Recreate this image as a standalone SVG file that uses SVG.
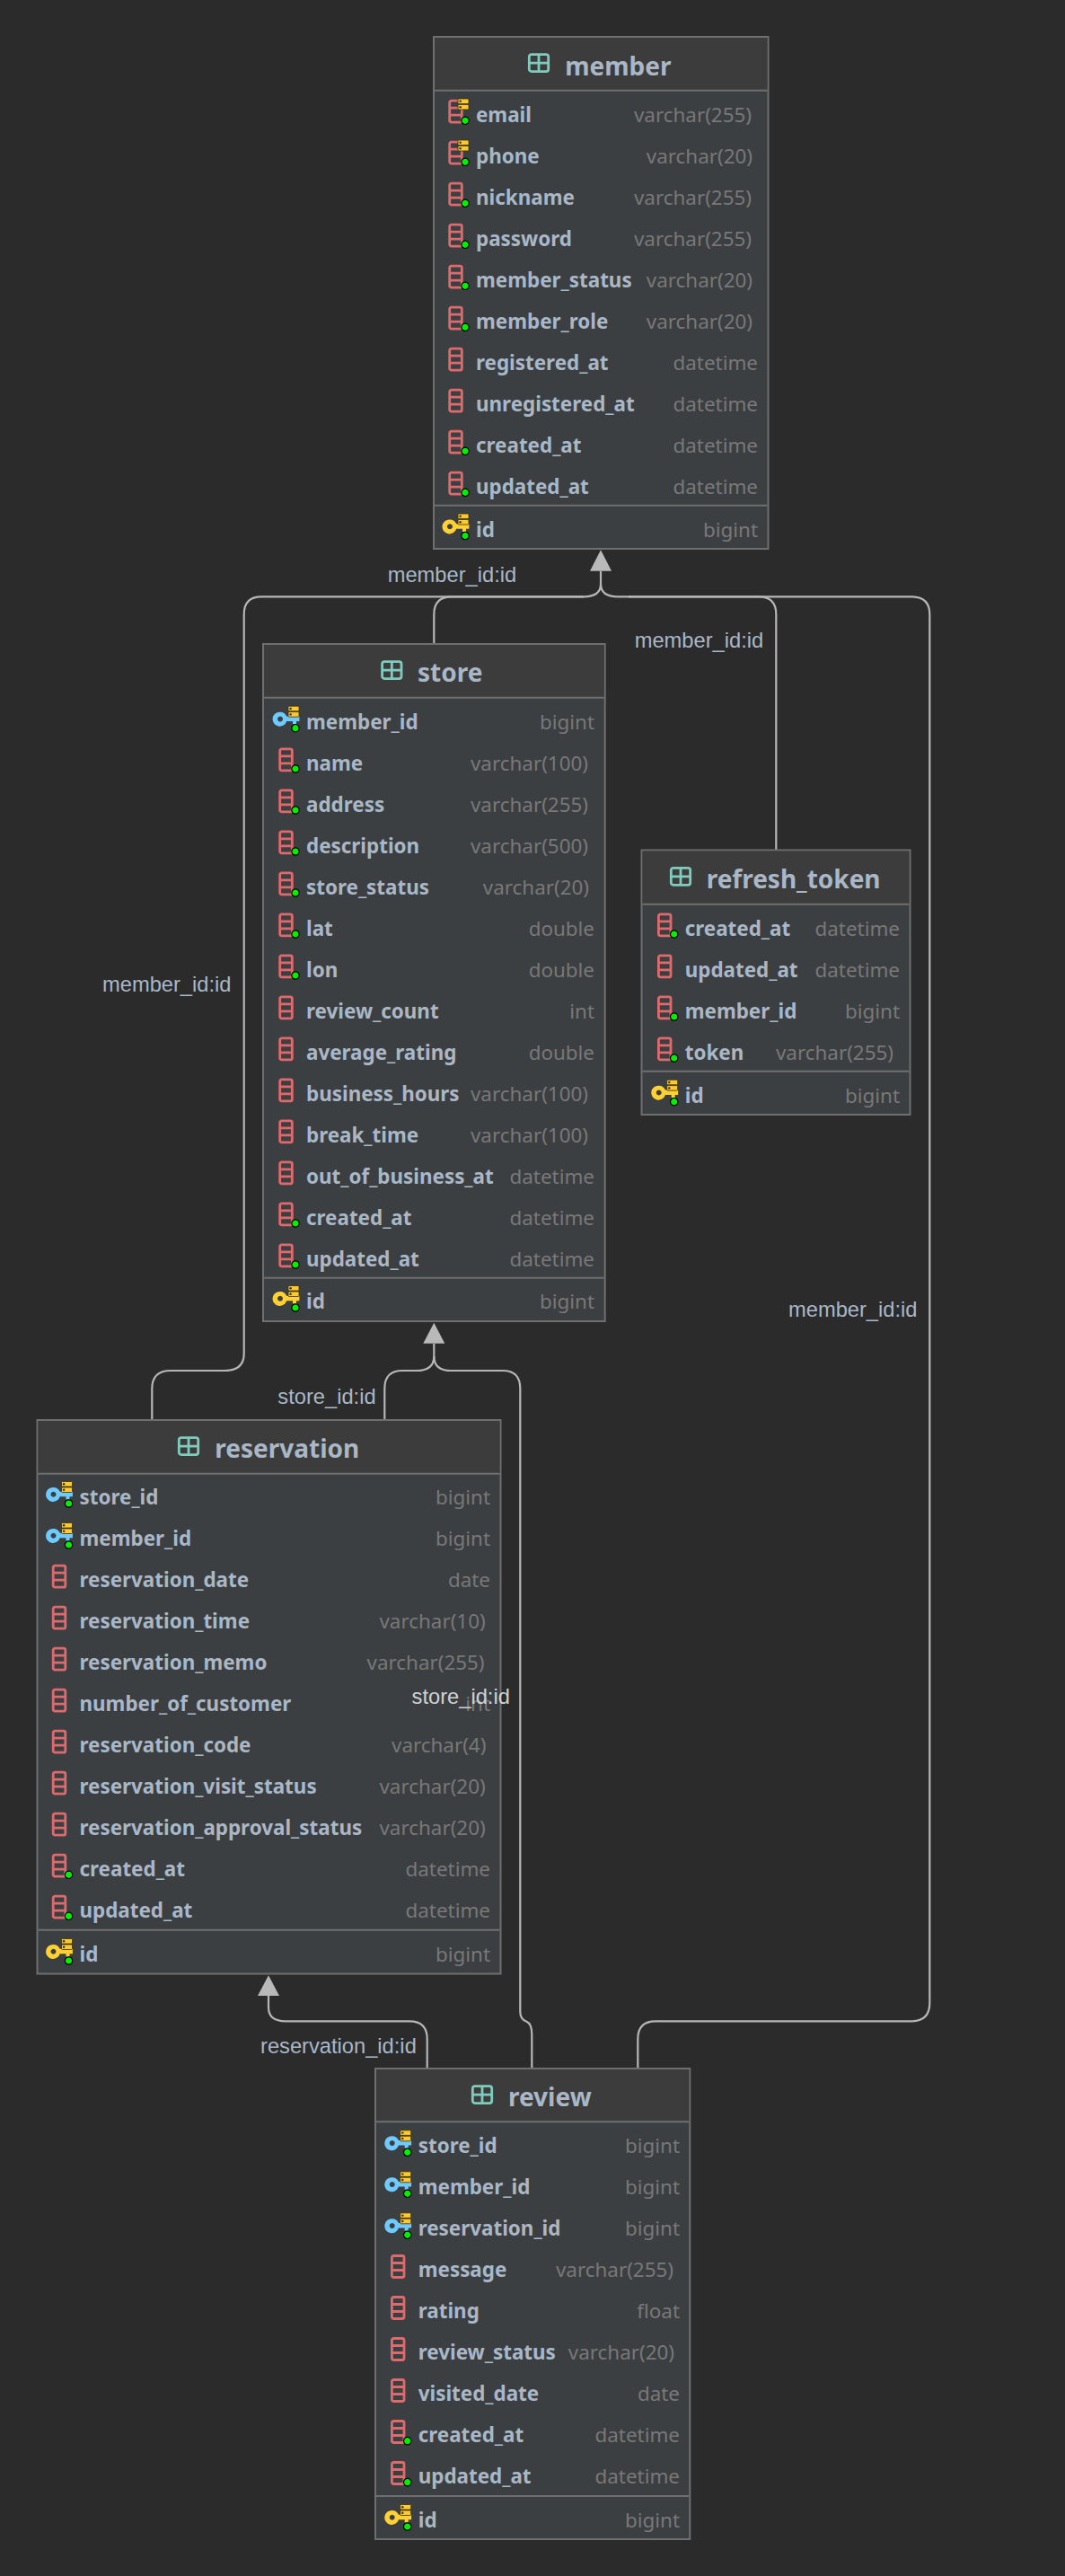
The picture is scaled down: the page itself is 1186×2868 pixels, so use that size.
<svg xmlns="http://www.w3.org/2000/svg" width="1186" height="2868" viewBox="0 0 1186 2868">
<style>
.bg{fill:#2b2b2b}
.box{fill:#3c3f41;stroke:#6f6f6f;stroke-width:2}
.hd{fill:#3c3c3c}
.sep{stroke:#6f6f6f;stroke-width:2;fill:none}
.title{font:700 28px "Noto Sans",sans-serif;fill:#a9b7c6}
.n{font:700 22.400px "Noto Sans",sans-serif;fill:#a9b7c6}
.t{font:400 22.400px "Noto Sans",sans-serif;fill:#787878;text-anchor:end}
.lb{font:400 23.700px "Liberation Sans",sans-serif;fill:#a9b7c6}
.ln{fill:none;stroke:#b6b6b6;stroke-width:2.200}
.ar{fill:#b9b9b9}
</style>
<defs>
<g id="tbl"><rect x="1.300" y="1.300" width="21.400" height="19" rx="2.500" fill="none" stroke="#7fcbbd" stroke-width="2.800"/><path d="M1 10.800H23M12 1V21" stroke="#7fcbbd" stroke-width="2.800"/></g>
<g id="dot"><circle r="4.200" fill="#00f000" stroke="#000" stroke-width="1.200"/></g>
<g id="idx"><rect x="0" y="0" width="12" height="5.600" rx="1" fill="#fcc833" stroke="#3c3000" stroke-width=".8"/><rect x="0" y="6.400" width="12" height="5.600" rx="1" fill="#fcc833" stroke="#3c3000" stroke-width=".8"/><circle cx="2.600" cy="2.800" r="1.200" fill="#333"/><circle cx="2.600" cy="9.200" r="1.200" fill="#333"/></g>
<g id="c"><g transform="translate(-30.500 -25)"><rect x="1.200" y="1.200" width="13.600" height="24" rx="2" fill="none" stroke="#de6a6e" stroke-width="2.800"/><path d="M1 9.200H15M1 17.200H15" stroke="#de6a6e" stroke-width="2.800"/></g></g>
<g id="cd"><use href="#c"/><use href="#dot" x="-12" y="-1.700"/></g>
<g id="cx"><use href="#c"/><use href="#idx" x="-20" y="-26"/><use href="#dot" x="-12" y="-1.700"/></g>
<path id="keyshape" fill-rule="evenodd" d="M8 0a8 8 0 0 1 7.200 4.800H29.400V10.200H26V13.500H22V10.200H15.200A8 8 0 1 1 8 0ZM8 4.800a3 3 0 1 0 .01 0Z"/>
<g id="pk"><use href="#keyshape" fill="#ffd134" x="-37" y="-19"/><use href="#idx" x="-20" y="-25.500"/><use href="#dot" x="-12" y="-1"/></g>
<g id="fk"><use href="#keyshape" fill="#6fcbff" x="-37" y="-19"/><use href="#idx" x="-20" y="-25.500"/><use href="#dot" x="-12" y="-1"/></g>
</defs>
<rect class="bg" width="1186" height="2868"/>
<g id="connectors">
<path class="ln" d="M669 636V650Q669 664.300 650 664.300H291Q271.700 664.300 271.700 684V1507Q271.700 1526 250 1526H190Q169.300 1526 169.300 1546V1580"/>
<path class="ln" d="M483.300 716V684Q483.300 664.300 503 664.300H650"/>
<path class="ln" d="M669 650Q669 664.300 688 664.300H1015Q1035.300 664.300 1035.300 684V2230Q1035.300 2250.300 1015 2250.300H730Q710.300 2250.300 710.300 2270V2302"/>
<path class="ln" d="M864.300 946V684Q864.300 664.300 845 664.300H700"/>
<path class="ln" d="M483.300 1496V1510Q483.300 1526 464 1526H448Q428.300 1526 428.300 1546V1580"/>
<path class="ln" d="M483.300 1510Q483.300 1526 502 1526H560Q579.300 1526 579.300 1546V2240Q579.300 2248 586 2250.500Q592.300 2253 592.300 2265V2302"/>
<path class="ln" d="M299 2222V2235Q299 2250.300 318 2250.300H456Q475.700 2250.300 475.700 2270V2302"/>
<path class="ar" d="M669 612.300L681 635.700H657Z"/>
<path class="ar" d="M483.300 1472.700L495.300 1495.700H471.300Z"/>
<path class="ar" d="M299 2199.300L311 2222H287Z"/>
</g>
<g id="member">
<rect class="box" x="483" y="41" width="372.500" height="570"/><rect class="hd" x="484" y="42" width="370.500" height="58"/><path class="sep" d="M484 100.700H854.500M484 562.700H854.500"/>
<use href="#tbl" x="588" y="59.300"/><text class="title" x="629.300" y="84">member</text>
<use href="#cx" x="530" y="136"/><text class="n" x="530" y="136">email</text><text class="t" x="837" y="136">varchar(255)</text>
<use href="#cx" x="530" y="182"/><text class="n" x="530" y="182">phone</text><text class="t" x="838" y="182">varchar(20)</text>
<use href="#cd" x="530" y="228"/><text class="n" x="530" y="228">nickname</text><text class="t" x="837" y="228">varchar(255)</text>
<use href="#cd" x="530" y="274"/><text class="n" x="530" y="274">password</text><text class="t" x="837" y="274">varchar(255)</text>
<use href="#cd" x="530" y="320"/><text class="n" x="530" y="320">member_status</text><text class="t" x="838" y="320">varchar(20)</text>
<use href="#cd" x="530" y="366"/><text class="n" x="530" y="366">member_role</text><text class="t" x="838" y="366">varchar(20)</text>
<use href="#c" x="530" y="412"/><text class="n" x="530" y="412">registered_at</text><text class="t" x="844" y="412">datetime</text>
<use href="#c" x="530" y="458"/><text class="n" x="530" y="458">unregistered_at</text><text class="t" x="844" y="458">datetime</text>
<use href="#cd" x="530" y="504"/><text class="n" x="530" y="504">created_at</text><text class="t" x="844" y="504">datetime</text>
<use href="#cd" x="530" y="550"/><text class="n" x="530" y="550">updated_at</text><text class="t" x="844" y="550">datetime</text>
<use href="#pk" x="530" y="597.500"/><text class="n" x="530" y="597.500">id</text><text class="t" x="844" y="597.500">bigint</text>
</g>
<g id="store">
<rect class="box" x="293" y="717" width="380.700" height="754"/><rect class="hd" x="294" y="718" width="378.700" height="58"/><path class="sep" d="M294 776.700H672.700M294 1422.700H672.700"/>
<use href="#tbl" x="424.300" y="735.300"/><text class="title" x="465" y="759.300">store</text>
<use href="#fk" x="341" y="811.700"/><text class="n" x="341" y="811.700">member_id</text><text class="t" x="662" y="811.700">bigint</text>
<use href="#cd" x="341" y="857.700"/><text class="n" x="341" y="857.700">name</text><text class="t" x="655" y="857.700">varchar(100)</text>
<use href="#cd" x="341" y="903.700"/><text class="n" x="341" y="903.700">address</text><text class="t" x="655" y="903.700">varchar(255)</text>
<use href="#cd" x="341" y="949.700"/><text class="n" x="341" y="949.700">description</text><text class="t" x="655" y="949.700">varchar(500)</text>
<use href="#cd" x="341" y="995.700"/><text class="n" x="341" y="995.700">store_status</text><text class="t" x="656" y="995.700">varchar(20)</text>
<use href="#cd" x="341" y="1041.700"/><text class="n" x="341" y="1041.700">lat</text><text class="t" x="662" y="1041.700">double</text>
<use href="#cd" x="341" y="1087.700"/><text class="n" x="341" y="1087.700">lon</text><text class="t" x="662" y="1087.700">double</text>
<use href="#c" x="341" y="1133.700"/><text class="n" x="341" y="1133.700">review_count</text><text class="t" x="662" y="1133.700">int</text>
<use href="#c" x="341" y="1179.700"/><text class="n" x="341" y="1179.700">average_rating</text><text class="t" x="662" y="1179.700">double</text>
<use href="#c" x="341" y="1225.700"/><text class="n" x="341" y="1225.700">business_hours</text><text class="t" x="655" y="1225.700">varchar(100)</text>
<use href="#c" x="341" y="1271.700"/><text class="n" x="341" y="1271.700">break_time</text><text class="t" x="655" y="1271.700">varchar(100)</text>
<use href="#c" x="341" y="1317.700"/><text class="n" x="341" y="1317.700">out_of_business_at</text><text class="t" x="662" y="1317.700">datetime</text>
<use href="#cd" x="341" y="1363.700"/><text class="n" x="341" y="1363.700">created_at</text><text class="t" x="662" y="1363.700">datetime</text>
<use href="#cd" x="341" y="1409.700"/><text class="n" x="341" y="1409.700">updated_at</text><text class="t" x="662" y="1409.700">datetime</text>
<use href="#pk" x="341" y="1457"/><text class="n" x="341" y="1457">id</text><text class="t" x="662" y="1457">bigint</text>
</g>
<g id="refresh_token">
<rect class="box" x="714.500" y="946.500" width="299" height="294.500"/><rect class="hd" x="715.500" y="947.500" width="297" height="58.500"/><path class="sep" d="M715.500 1006.700H1012.500M715.500 1192.700H1012.500"/>
<use href="#tbl" x="746" y="965"/><text class="title" x="786.700" y="989.300">refresh_token</text>
<use href="#cd" x="762.700" y="1041.700"/><text class="n" x="762.700" y="1041.700">created_at</text><text class="t" x="1002" y="1041.700">datetime</text>
<use href="#c" x="762.700" y="1087.700"/><text class="n" x="762.700" y="1087.700">updated_at</text><text class="t" x="1002" y="1087.700">datetime</text>
<use href="#cd" x="762.700" y="1133.700"/><text class="n" x="762.700" y="1133.700">member_id</text><text class="t" x="1002" y="1133.700">bigint</text>
<use href="#cd" x="762.700" y="1179.700"/><text class="n" x="762.700" y="1179.700">token</text><text class="t" x="995" y="1179.700">varchar(255)</text>
<use href="#pk" x="762.700" y="1227.700"/><text class="n" x="762.700" y="1227.700">id</text><text class="t" x="1002" y="1227.700">bigint</text>
</g>
<g id="reservation">
<rect class="box" x="41.500" y="1581" width="516" height="616.500"/><rect class="hd" x="42.500" y="1582" width="514" height="58"/><path class="sep" d="M42.500 1640.700H556.500M42.500 2148.700H556.500"/>
<use href="#tbl" x="198" y="1599.300"/><text class="title" x="239.300" y="1623.300">reservation</text>
<use href="#fk" x="88.500" y="1675"/><text class="n" x="88.500" y="1675">store_id</text><text class="t" x="546" y="1675">bigint</text>
<use href="#fk" x="88.500" y="1721"/><text class="n" x="88.500" y="1721">member_id</text><text class="t" x="546" y="1721">bigint</text>
<use href="#c" x="88.500" y="1767"/><text class="n" x="88.500" y="1767">reservation_date</text><text class="t" x="546" y="1767">date</text>
<use href="#c" x="88.500" y="1813"/><text class="n" x="88.500" y="1813">reservation_time</text><text class="t" x="540.700" y="1813">varchar(10)</text>
<use href="#c" x="88.500" y="1859"/><text class="n" x="88.500" y="1859">reservation_memo</text><text class="t" x="539.600" y="1859">varchar(255)</text>
<use href="#c" x="88.500" y="1905"/><text class="n" x="88.500" y="1905">number_of_customer</text><text class="t" x="546" y="1905">int</text>
<use href="#c" x="88.500" y="1951"/><text class="n" x="88.500" y="1951">reservation_code</text><text class="t" x="541.400" y="1951">varchar(4)</text>
<use href="#c" x="88.500" y="1997"/><text class="n" x="88.500" y="1997">reservation_visit_status</text><text class="t" x="540.700" y="1997">varchar(20)</text>
<use href="#c" x="88.500" y="2043"/><text class="n" x="88.500" y="2043">reservation_approval_status</text><text class="t" x="540.700" y="2043">varchar(20)</text>
<use href="#cd" x="88.500" y="2089"/><text class="n" x="88.500" y="2089">created_at</text><text class="t" x="546" y="2089">datetime</text>
<use href="#cd" x="88.500" y="2135"/><text class="n" x="88.500" y="2135">updated_at</text><text class="t" x="546" y="2135">datetime</text>
<use href="#pk" x="88.500" y="2184"/><text class="n" x="88.500" y="2184">id</text><text class="t" x="546" y="2184">bigint</text>
</g>
<g id="review">
<rect class="box" x="418" y="2303" width="350.300" height="524"/><rect class="hd" x="419" y="2304" width="348.300" height="58"/><path class="sep" d="M419 2362.300H767.300M419 2779H767.300"/>
<use href="#tbl" x="525" y="2321.300"/><text class="title" x="566" y="2345.300">review</text>
<use href="#fk" x="465.700" y="2397.300"/><text class="n" x="465.700" y="2397.300">store_id</text><text class="t" x="757" y="2397.300">bigint</text>
<use href="#fk" x="465.700" y="2443.300"/><text class="n" x="465.700" y="2443.300">member_id</text><text class="t" x="757" y="2443.300">bigint</text>
<use href="#fk" x="465.700" y="2489.300"/><text class="n" x="465.700" y="2489.300">reservation_id</text><text class="t" x="757" y="2489.300">bigint</text>
<use href="#c" x="465.700" y="2535.300"/><text class="n" x="465.700" y="2535.300">message</text><text class="t" x="750" y="2535.300">varchar(255)</text>
<use href="#c" x="465.700" y="2581.300"/><text class="n" x="465.700" y="2581.300">rating</text><text class="t" x="757" y="2581.300">float</text>
<use href="#c" x="465.700" y="2627.300"/><text class="n" x="465.700" y="2627.300">review_status</text><text class="t" x="751" y="2627.300">varchar(20)</text>
<use href="#c" x="465.700" y="2673.300"/><text class="n" x="465.700" y="2673.300">visited_date</text><text class="t" x="757" y="2673.300">date</text>
<use href="#cd" x="465.700" y="2719.300"/><text class="n" x="465.700" y="2719.300">created_at</text><text class="t" x="757" y="2719.300">datetime</text>
<use href="#cd" x="465.700" y="2765.300"/><text class="n" x="465.700" y="2765.300">updated_at</text><text class="t" x="757" y="2765.300">datetime</text>
<use href="#pk" x="465.700" y="2814"/><text class="n" x="465.700" y="2814">id</text><text class="t" x="757" y="2814">bigint</text>
</g>
<g id="connector-labels">
<text class="lb" x="431.700" y="647.700">member_id:id</text>
<text class="lb" x="706.700" y="720.700">member_id:id</text>
<text class="lb" x="114" y="1104.300">member_id:id</text>
<text class="lb" x="878" y="1466">member_id:id</text>
<text class="lb" x="309.300" y="1562.700">store_id:id</text>
<text class="lb" x="458.600" y="1897" style="fill:#ced2d6">store_id:id</text>
<text class="lb" x="290" y="2286">reservation_id:id</text>
</g>
</svg>
